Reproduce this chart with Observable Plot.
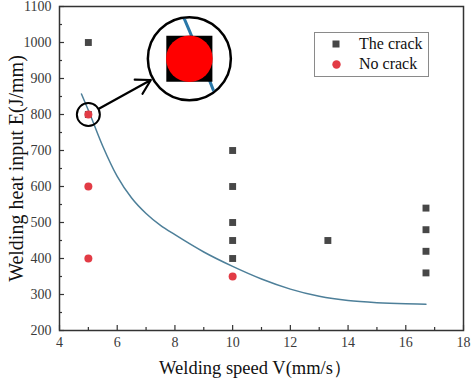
<!DOCTYPE html>
<html>
<head>
<meta charset="utf-8">
<script src="https://cdn.jsdelivr.net/npm/d3@7"></script>
<script src="https://cdn.jsdelivr.net/npm/@observablehq/plot@0.6"></script>
<style>
  html, body { margin: 0; padding: 0; background: #fff; }
  #wrap { position: relative; width: 474px; height: 384px; font-family: "Liberation Serif", "DejaVu Serif", serif; }
  #wrap svg text { font-family: "Liberation Serif", "DejaVu Serif", serif !important; }
  #legend { position: absolute; left: 314px; top: 32px; width: 113px; height: 43px; border: 1px solid #8a8a8a; background: #fff; }
  #legend .sym { position: absolute; left: 17px; }
  #legend .lab { position: absolute; left: 44px; font-size: 16px; line-height: 20px; color: #111; white-space: nowrap; }
</style>
</head>
<body>
<div id="wrap"></div>
<script>
// ---- data ----
const crackV = [5, 5, 10, 10, 10, 10, 10, 13.3, 16.7, 16.7, 16.7, 16.7];
const crackE = [1000, 800, 700, 600, 500, 450, 400, 450, 540, 480, 420, 360];
const noCrackV = [5, 5, 5, 10];
const noCrackE = [800, 600, 400, 350];
const fitV = [4.76, 5.0, 5.5, 6.0, 6.5, 7.0, 7.5, 8.0, 9.0, 10.0, 11.0, 12.0, 13.0, 14.0, 15.0, 16.0, 16.7];
const fitE = [857, 812, 712, 628, 568, 525, 492, 466, 418, 378, 343, 315, 295, 283, 277, 274, 273];
const xMajor = [4, 6, 8, 10, 12, 14, 16, 18];
const xMinor = [5, 7, 9, 11, 13, 15, 17];
const yMajor = [200, 300, 400, 500, 600, 700, 800, 900, 1000, 1100];
const yMinor = [250, 350, 450, 550, 650, 750, 850, 950, 1050];
const xLabel = "Welding speed V(mm/s\uFF09";
const yLabel = "Welding heat input E(J/mm)";
const legendLabels = ["The crack", "No crack"];
// annotation: highlighted point and magnified inset centre
const focus = {V: 5, E: 800};
const insetCenter = {V: 8.5, E: 955};
const zoomFactor = 6.5;

const crack = crackV.map((v, i) => ({V: v, E: crackE[i]}));
const noCrack = noCrackV.map((v, i) => ({V: v, E: noCrackE[i]}));
const fit = fitV.map((v, i) => ({V: v, E: fitE[i]}));
const insetFit = fit.filter(d => d.V <= 6).map(d => ({
  V: insetCenter.V + (d.V - focus.V) * zoomFactor,
  E: insetCenter.E + (d.E - focus.E) * zoomFactor
}));

const serif = '"Liberation Serif", "DejaVu Serif", serif';
const insetBlue = "#2a78a8";
const fmt = d => String(d);
const plot = Plot.plot({
  width: 474,
  height: 384,
  marginLeft: 59,
  marginRight: 11,
  marginTop: 6,
  marginBottom: 54,
  style: {fontFamily: serif, background: "#fff"},
  x: {domain: [4, 18]},
  y: {domain: [200, 1100]},
  marks: [
    Plot.axisX({ticks: xMajor, tickSize: -5, text: null, label: null, stroke: "#333", strokeWidth: 1.2}),
    Plot.axisX({ticks: xMinor, tickSize: -3, text: null, label: null, stroke: "#333", strokeWidth: 1.2}),
    Plot.axisX({ticks: xMajor, tickSize: 0, tickPadding: 7, tickFormat: fmt, label: null, fontSize: 14, fill: "#3a3a3a"}),
    Plot.axisY({ticks: yMajor, tickSize: -5, text: null, label: null, stroke: "#333", strokeWidth: 1.2}),
    Plot.axisY({ticks: yMinor, tickSize: -3, text: null, label: null, stroke: "#333", strokeWidth: 1.2}),
    Plot.axisY({ticks: yMajor, tickSize: 0, tickPadding: 8, tickFormat: fmt, label: null, fontSize: 14, fill: "#3a3a3a"}),
    Plot.frame({stroke: "#333", strokeWidth: 1.5}),
    Plot.line(fit, {x: "V", y: "E", curve: "monotone-x", stroke: "#4d7f99", strokeWidth: 1.5}),
    Plot.dot(crack, {x: "V", y: "E", symbol: "square", r: 3.9, fill: "#474747"}),
    Plot.dot(noCrack, {x: "V", y: "E", symbol: "circle", r: 4, fill: "#e23b45"}),
    Plot.dot([focus], {x: "V", y: "E", r: 11.5, stroke: "#000", strokeWidth: 2, fill: "none"}),
    Plot.arrow([{x1: focus.V, y1: focus.E, x2: insetCenter.V, y2: insetCenter.E}], {
      x1: "x1", y1: "y1", x2: "x2", y2: "y2", insetStart: 12, insetEnd: 44,
      stroke: "#000", strokeWidth: 2.2, headLength: 11, bend: 0
    }),
    Plot.dot([insetCenter], {x: "V", y: "E", r: 41.5, stroke: "#000", strokeWidth: 2.5, fill: "#fff"}),
    Plot.line(insetFit, {x: "V", y: "E", curve: "monotone-x", stroke: insetBlue, strokeWidth: 3}),
    Plot.dot([insetCenter], {x: "V", y: "E", symbol: "square", r: 26, fill: "#000"}),
    Plot.dot([insetCenter], {x: "V", y: "E", symbol: "circle", r: 23.3, fill: "#ff0000"}),
    Plot.text([xLabel], {frameAnchor: "bottom", lineAnchor: "middle", textAnchor: "middle", dy: 38, dx: -6, fontSize: 18.5, fill: "#111"}),
    Plot.text([yLabel], {frameAnchor: "left", lineAnchor: "middle", textAnchor: "middle", dx: -43, rotate: -90, fontSize: 20, fill: "#111"})
  ]
});

// clip the magnified curve to the inset circle
const sx = plot.scale("x"), sy = plot.scale("y");
const cx = sx.apply(insetCenter.V), cy = sy.apply(insetCenter.E);
const ns = "http://www.w3.org/2000/svg";
const defs = document.createElementNS(ns, "defs");
const cp = document.createElementNS(ns, "clipPath");
cp.setAttribute("id", "inset-clip");
const cc = document.createElementNS(ns, "circle");
cc.setAttribute("cx", cx); cc.setAttribute("cy", cy); cc.setAttribute("r", 40.5);
cp.appendChild(cc); defs.appendChild(cp);
plot.insertBefore(defs, plot.firstChild);
plot.querySelectorAll('g[stroke="' + insetBlue + '"]').forEach(g => g.setAttribute("clip-path", "url(#inset-clip)"));

const wrap = document.getElementById("wrap");
wrap.appendChild(plot);

// legend
const legend = document.createElement("div");
legend.id = "legend";
const symbols = [
  '<svg class="sym" width="8" height="8"><rect x="0.5" y="0.5" width="7" height="7" fill="#474747"/></svg>',
  '<svg class="sym" width="9" height="9"><circle cx="4.5" cy="4.5" r="4.2" fill="#e23b45"/></svg>'
];
legendLabels.forEach((lab, i) => {
  const top = 1 + i * 20;
  legend.insertAdjacentHTML("beforeend", symbols[i].replace('class="sym"', 'class="sym" style="top:' + (top + 6) + 'px"'));
  legend.insertAdjacentHTML("beforeend", '<div class="lab" style="top:' + top + 'px">' + lab + '</div>');
});
wrap.appendChild(legend);
</script>
</body>
</html>
